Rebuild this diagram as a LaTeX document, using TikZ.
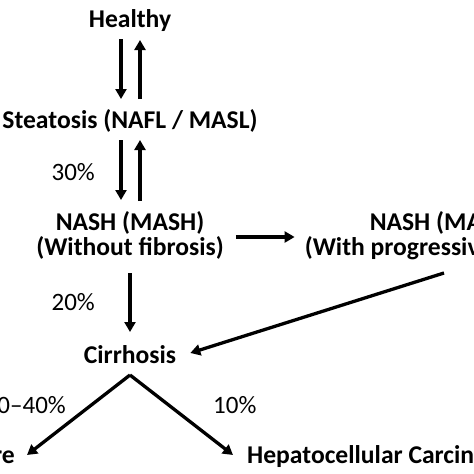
\documentclass[tikz,border=0pt]{standalone}
\usepackage{fontspec}
\setmainfont{Carlito}
\usetikzlibrary{arrows.meta}
\begin{document}
\begin{tikzpicture}[x=1pt,y=-1pt,
  lbl/.style={font=\fontsize{25.6}{25}\selectfont\bfseries, inner sep=0pt, align=center},
  pct/.style={font=\fontsize{25}{25}\selectfont, inner sep=0pt},
  arr/.style={line width=3.3pt, -{Triangle[length=10pt,width=11pt]}}]
\clip (0,0) rectangle (474,474);
\fill[white] (0,0) rectangle (474,474);
\node[lbl, anchor=base] (healthy) at (130,27) {Healthy};
\node[lbl, anchor=base] (steat) at (130,128) {Steatosis (NAFL / MASL)};
\node[lbl, anchor=base] (nash1) at (130,255) {NASH (MASH)\\(Without fibrosis)};
\node[lbl, anchor=base] (nash2) at (444,255) {NASH (MASH)\\(With progressive fibrosis)};
\node[lbl, anchor=base] (cirr) at (130,363) {Cirrhosis};
\node[lbl, anchor=base east] (lf) at (15,463) {Liver failure};
\node[lbl, anchor=base west] (hcc) at (247,463) {Hepatocellular Carcinoma};
\node[pct, anchor=base east] (p30) at (95,180) {30\%};
\node[pct, anchor=base east] (p20) at (95,310) {20\%};
\node[pct, anchor=base east] (p2040) at (66,413) {20--40\%};
\node[pct, anchor=base west] (p10) at (213,413) {10\%};
% Healthy <-> Steatosis
\draw[arr] ([xshift=-9pt]healthy.south |- 0,39) -- ([xshift=-9pt]steat.north |- 0,99);
\draw[arr] ([xshift=10pt]steat.north |- 0,99) -- ([xshift=10pt]healthy.south |- 0,40);
% Steatosis <-> NASH
\draw[arr] ([xshift=-9pt]steat.south |- 0,140) -- ([xshift=-9pt]nash1.north |- 0,200);
\draw[arr] ([xshift=10pt]nash1.north |- 0,201) -- ([xshift=10pt]steat.south |- 0,140);
% NASH -> NASH progressive
\draw[arr] ([xshift=12pt]nash1.east |- 0,237) -- ([xshift=-10pt]nash2.west |- 0,237);
% NASH -> Cirrhosis
\draw[arr] (nash1.south |- 0,273) -- (cirr.north |- 0,332);
% NASH progressive -> Cirrhosis
\draw[arr] (nash2.south |- 0,273) -- ([xshift=14pt]cirr.east |- 0,353);
% Cirrhosis branches
\coordinate (apex) at (cirr.south |- 0,375);
\draw[arr] (apex) -- ([xshift=12pt]lf.east |- 0,455);
\draw[arr] (apex) -- ([xshift=-14pt]hcc.west |- 0,455);
\end{tikzpicture}
\end{document}
